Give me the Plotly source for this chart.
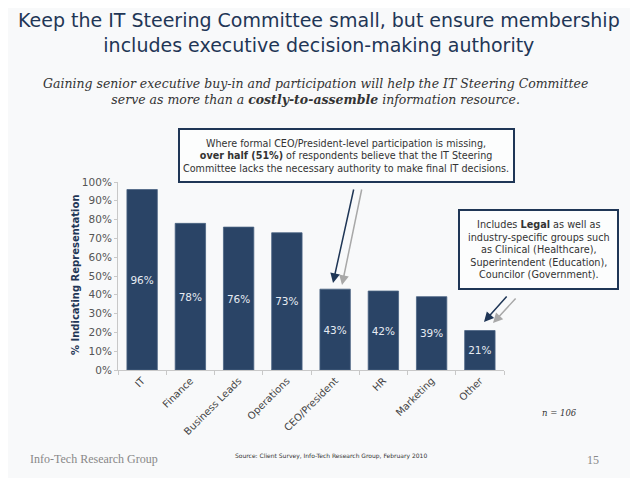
import plotly.graph_objects as go

categories = ["IT", "Finance", "Business Leads", "Operations", "CEO/President", "HR", "Marketing", "Other"]
values = [96, 78, 76, 73, 43, 42, 39, 21]
value_labels = ["96%", "78%", "76%", "73%", "43%", "42%", "39%", "21%"]
y_ticks = [0, 10, 20, 30, 40, 50, 60, 70, 80, 90, 100]
y_tick_labels = ["0%", "10%", "20%", "30%", "40%", "50%", "60%", "70%", "80%", "90%", "100%"]

NAVY = "#1f3656"
BAR = "#2a4466"
BG = "#f8f9fa"
SANS = "DejaVu Sans"

fig = go.Figure()
fig.add_trace(go.Bar(
    x=categories, y=values, text=value_labels,
    textposition="inside", insidetextanchor="middle",
    textfont=dict(family=SANS, size=10.5, color="#e6ebf2"),
    marker=dict(color=BAR, line=dict(width=0.8, color="#4a6383")),
    hoverinfo="skip",
))

fig.update_layout(
    width=630, height=470,
    margin=dict(l=110, r=134, t=174, b=108),
    paper_bgcolor=BG, plot_bgcolor=BG,
    bargap=0.37, showlegend=False,
    font=dict(family=SANS, color="#444"),
)
fig.update_yaxes(
    range=[0, 100], tickvals=y_ticks, ticktext=y_tick_labels,
    showgrid=False, zeroline=False, showline=True, linecolor="#c8c8c8", linewidth=1,
    ticks="outside", ticklen=3, tickcolor="#c8c8c8",
    tickfont=dict(family=SANS, size=10.5, color="#555"),
)
fig.update_xaxes(
    showline=True, linecolor="#c8c8c8", linewidth=1, tickson="boundaries",
    ticks="outside", ticklen=4, tickcolor="#c8c8c8", tickangle=-45,
    tickfont=dict(family=SANS, size=10, color="#444"),
)

def px(x):
    return (x - 118) / 386

def py(y):
    return (370 - y) / 188

ann = []
ann.append(dict(xref="paper", yref="paper", x=px(319), y=py(32), xanchor="center", yanchor="middle",
                text="Keep the IT Steering Committee small, but ensure membership<br>includes executive decision-making authority",
                showarrow=False, font=dict(family=SANS, size=19, color=NAVY)))
ann.append(dict(xref="paper", yref="paper", x=px(315), y=py(91), xanchor="center", yanchor="middle",
                text="<i>Gaining senior executive buy-in and participation will help the IT Steering Committee<br>serve as more than a <b>costly-to-assemble</b> information resource.</i>",
                showarrow=False, font=dict(family="DejaVu Serif", size=12.5, color="#333")))
ann.append(dict(xref="paper", yref="paper", x=px(346), y=py(156), xanchor="center", yanchor="middle",
                text="Where formal CEO/President-level participation is missing,<br><b>over half (51%)</b> of respondents believe that the IT Steering<br>Committee lacks the necessary authority to make final IT decisions.",
                showarrow=False, font=dict(family=SANS, size=9.6, color="#333")))
ann.append(dict(xref="paper", yref="paper", x=px(538.5), y=py(249), xanchor="center", yanchor="middle",
                text="Includes <b>Legal</b> as well as<br>industry-specific groups such<br>as Clinical (Healthcare),<br>Superintendent (Education),<br>Councilor (Government).",
                showarrow=False, font=dict(family=SANS, size=9.7, color="#333")))
ann.append(dict(xref="paper", yref="paper", x=px(75), y=py(275), xanchor="center", yanchor="middle",
                text="<b>% Indicating Representation</b>", textangle=-90,
                showarrow=False, font=dict(family=SANS, size=10, color=NAVY)))
ann.append(dict(xref="paper", yref="paper", x=px(559), y=py(413), xanchor="center", yanchor="middle",
                text="<i>n = 106</i>", showarrow=False, font=dict(family="DejaVu Serif", size=8.5, color="#333")))
ann.append(dict(xref="paper", yref="paper", x=px(28), y=py(459), xanchor="left", yanchor="middle",
                text="Info-Tech Research Group", showarrow=False, font=dict(family="Liberation Serif", size=12, color="#888")))
ann.append(dict(xref="paper", yref="paper", x=px(233), y=py(456), xanchor="left", yanchor="middle",
                text="Source: Client Survey, Info-Tech Research Group, February 2010", showarrow=False,
                font=dict(family=SANS, size=6, color="#333")))
ann.append(dict(xref="paper", yref="paper", x=px(593), y=py(460), xanchor="center", yanchor="middle",
                text="15", showarrow=False, font=dict(family="Liberation Serif", size=12, color="#888")))

# arrows: (head_x, head_y, tail_dx, tail_dy, color)
arrows = [
    (342, 285, 20, -97, "#a8a8a8"),
    (333, 283, 21, -95, NAVY),
    (493, 323, 24, -26, "#a8a8a8"),
    (484, 322, 24, -27, NAVY),
]
for hx, hy, dx, dy, col in arrows:
    ann.append(dict(xref="paper", yref="paper", x=px(hx), y=py(hy), ax=dx, ay=dy,
                    axref="pixel", ayref="pixel", text="", showarrow=True,
                    arrowhead=2, arrowsize=1.3, arrowwidth=1.5, arrowcolor=col, standoff=0))
fig.update_layout(annotations=ann)

shapes = [
    dict(type="rect", xref="paper", yref="paper", x0=px(179), x1=px(514), y0=py(182), y1=py(129),
         line=dict(color=NAVY, width=2), fillcolor="rgba(255,255,255,0.6)", layer="below"),
    dict(type="rect", xref="paper", yref="paper", x0=px(459), x1=px(618), y0=py(289), y1=py(210),
         line=dict(color=NAVY, width=2), fillcolor="rgba(255,255,255,0.6)", layer="below"),
]
fig.update_layout(shapes=shapes)

fig.write_html("out.html")
